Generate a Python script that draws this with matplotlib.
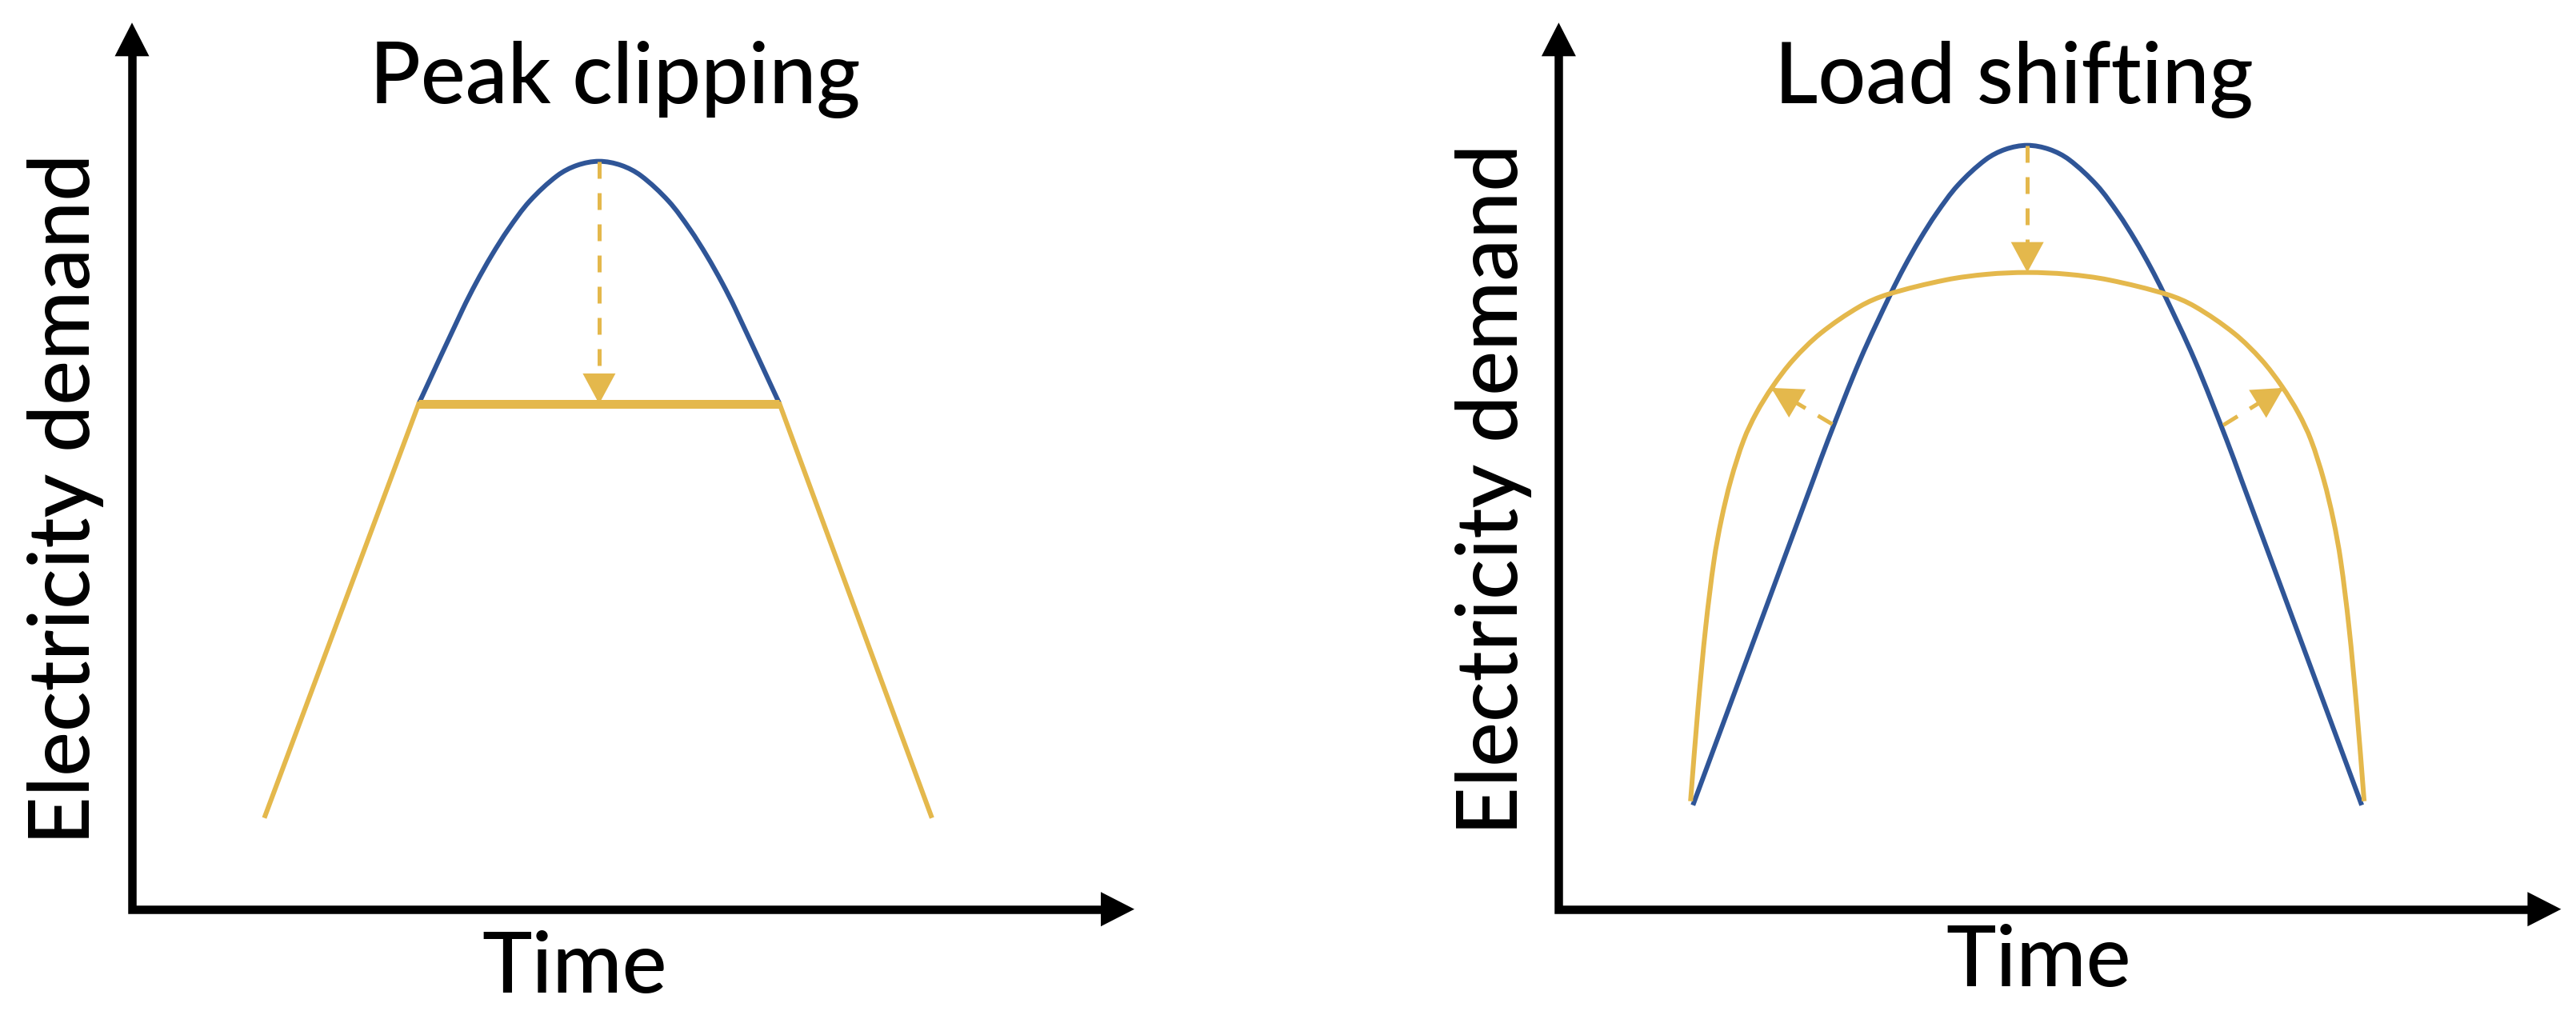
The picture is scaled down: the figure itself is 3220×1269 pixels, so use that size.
import numpy as np
import matplotlib
matplotlib.use("Agg")
import matplotlib.pyplot as plt
from matplotlib.path import Path
from matplotlib.patches import PathPatch

BLUE = "#2F5597"
GOLD = "#E4B84C"
FONT = "Lato"

# ---------------- data (time and demand in 0..100 units of each panel) -------------
titles = ["Peak clipping", "Load shifting"]
xlabel = "Time"
ylabel = "Electricity demand"

# Peak clipping: original demand curve
clip_time = [13.2, 28.6, 32.99, 34.33, 35.86, 37.54, 39.66, 42.43, 44.41, 46.6,
             48.79, 50.77, 53.54, 55.66, 57.34, 58.87, 60.21, 64.6, 79.8]
clip_demand = [10.29, 57.0, 67.67, 70.65, 73.71, 76.69, 79.85, 82.74, 83.91, 84.36,
               83.91, 82.74, 79.85, 76.69, 73.71, 70.65, 67.67, 57.0, 10.29]
clip_level = 57.0
clip_start, clip_end = 28.6, 64.6
clip_peak_time = 46.6

# Load shifting: original demand curve
shift_time = [13.39, 19.97, 25.40, 26.88, 30.07, 33.14, 34.48, 36.01, 37.69, 39.81,
              42.58, 44.56, 46.75, 48.94, 50.92, 53.69, 55.81, 57.49, 59.02, 60.36,
              63.43, 66.62, 68.10, 73.53, 80.11]
shift_demand = [11.73, 31.85, 48.45, 52.96, 61.98, 69.47, 72.45, 75.51, 78.49, 81.65,
                84.54, 85.71, 86.16, 85.71, 84.54, 81.65, 78.49, 75.51, 72.45, 69.47,
                61.98, 52.96, 48.45, 31.85, 11.73]
# Load shifting: shifted demand curve
shifted_time = [13.15, 13.91, 14.67, 15.50, 16.22, 17.18, 18.46, 19.70, 21.34, 23.39,
                26.13, 30.03, 32.78, 38.63, 42.76, 46.75, 50.74, 54.87, 60.72, 63.47,
                67.37, 70.11, 72.16, 73.80, 75.04, 76.32, 77.28, 78.00, 78.83, 79.59, 80.35]
shifted_demand = [12.18, 22.87, 31.89, 39.40, 43.91, 48.43, 52.94, 55.94, 58.95, 61.96,
                  64.96, 67.98, 69.33, 70.98, 71.62, 71.82, 71.62, 70.98, 69.33, 67.98,
                  64.96, 61.96, 58.95, 55.94, 52.94, 48.43, 43.91, 39.40, 31.89, 22.87, 12.18]
shifted_peak = 71.82
# side arrows (from original curve to shifted curve)
side_arrows = [((27.3, 54.7), (21.2, 58.8)),
               ((66.3, 54.6), (72.3, 58.8))]

# ---------------- figure ----------------
W, H, DPI = 3220, 1269, 100
fig = plt.figure(figsize=(W / DPI, H / DPI), dpi=DPI)
fig.patch.set_facecolor("white")

AXW_PX, AXH_PX = 1253.0, 1108.4
ax_w, ax_h = AXW_PX / W, AXH_PX / H
bottom = (H - 1136.7) / H
axL = fig.add_axes([165.0 / W, bottom, ax_w, ax_h])
axR = fig.add_axes([1948.4 / W, bottom, ax_w, ax_h])

px2pt = 72.0 / DPI
SX, SY = AXW_PX / 100.0, AXH_PX / 100.0   # pixels per data unit


def smooth_path(xs, ys):
    """Smooth curve through the given points (chord-length cardinal spline as Bezier path)."""
    P = np.column_stack([np.asarray(xs, float) * SX, np.asarray(ys, float) * SY])
    n = len(P)
    d = np.linalg.norm(np.diff(P, axis=0), axis=1)
    T = np.zeros_like(P)
    T[0] = (P[1] - P[0]) / d[0]
    T[-1] = (P[-1] - P[-2]) / d[-1]
    for i in range(1, n - 1):
        T[i] = (P[i + 1] - P[i - 1]) / (d[i - 1] + d[i])
    verts = [P[0]]
    codes = [Path.MOVETO]
    for i in range(n - 1):
        c1 = P[i] + T[i] * d[i] / 3.0
        c2 = P[i + 1] - T[i + 1] * d[i] / 3.0
        verts += [c1, c2, P[i + 1]]
        codes += [Path.CURVE4] * 3
    verts = np.array(verts)
    verts[:, 0] /= SX
    verts[:, 1] /= SY
    return Path(verts, codes)


def draw_curve(ax, xs, ys, color, lw, z):
    ax.add_patch(PathPatch(smooth_path(xs, ys), facecolor="none", edgecolor=color,
                           lw=lw, capstyle="butt", joinstyle="round", zorder=z))


def draw_axes_arrows(ax):
    ax.set_xlim(0, 100)
    ax.set_ylim(0, 100)
    ax.axis("off")
    ax.plot([0, 0, 0.985], [0.985, 0, 0], transform=ax.transAxes, color="black",
            lw=10.5 * px2pt, solid_joinstyle="miter", solid_capstyle="projecting",
            clip_on=False)
    hl = 42 * px2pt / 10
    hw = 21.5 * px2pt / 10
    style = f"-|>,head_length={hl},head_width={hw}"
    for xy, xytext in [((1, 0), (0.9, 0)), ((0, 1), (0, 0.9))]:
        ax.annotate("", xy=xy, xytext=xytext, xycoords="axes fraction",
                    textcoords="axes fraction",
                    arrowprops=dict(arrowstyle=style, lw=0, color="black",
                                    shrinkA=0, shrinkB=0, mutation_scale=10),
                    annotation_clip=False)


def dashed_arrow(ax, tail, tip):
    ax.plot([tail[0], tip[0]], [tail[1], tip[1]], color=GOLD, lw=5 * px2pt,
            linestyle=(0, (4.2, 3.6)), dash_capstyle="butt", zorder=4)
    hl = 38 * px2pt / 10
    hw = 20.5 * px2pt / 10
    ax.annotate("", xy=tip, xytext=tail,
                arrowprops=dict(arrowstyle=f"-|>,head_length={hl},head_width={hw}",
                                lw=0, color=GOLD, shrinkA=0, shrinkB=0,
                                mutation_scale=10), zorder=5)


for ax in (axL, axR):
    draw_axes_arrows(ax)

LW = 6 * px2pt

# ---- left panel: peak clipping
above = [i for i, v in enumerate(clip_demand) if v >= clip_level]
draw_curve(axL, [clip_time[i] for i in above], [clip_demand[i] for i in above], BLUE, LW, 2)
axL.plot(clip_time, np.minimum(clip_demand, clip_level), color=GOLD, lw=LW,
         solid_capstyle="butt", solid_joinstyle="miter", zorder=3)
axL.hlines(clip_level, clip_start, clip_end, color=GOLD, lw=11 * px2pt, zorder=3)
dashed_arrow(axL, (clip_peak_time, max(clip_demand)), (clip_peak_time, clip_level))

# ---- right panel: load shifting
draw_curve(axR, shift_time, shift_demand, BLUE, LW, 2)
draw_curve(axR, shifted_time, shifted_demand, GOLD, LW, 3)
peak_t = shift_time[int(np.argmax(shift_demand))]
dashed_arrow(axR, (peak_t, max(shift_demand)), (peak_t, shifted_peak))
for tail, tip in side_arrows:
    dashed_arrow(axR, tail, tip)

# ---- texts
FS = 76
kw = dict(fontsize=FS, family=FONT, fontweight="medium")
fig.text(769 / W, (H - 129) / H, titles[0], ha="center", va="baseline", **kw)
fig.text(2517.7 / W, (H - 129) / H, titles[1], ha="center", va="baseline", **kw)
fig.text(718 / W, (H - 1241) / H, xlabel, ha="center", va="baseline", **kw)
fig.text(2548.5 / W, (H - 1233) / H, xlabel, ha="center", va="baseline", **kw)
fig.text(112 / W, (H - 624) / H, ylabel, ha="center", va="baseline", rotation=90,
         rotation_mode="anchor", **kw)
fig.text(1897 / W, (H - 612) / H, ylabel, ha="center", va="baseline", rotation=90,
         rotation_mode="anchor", **kw)

fig.savefig("out.png", dpi=DPI, facecolor="white")
